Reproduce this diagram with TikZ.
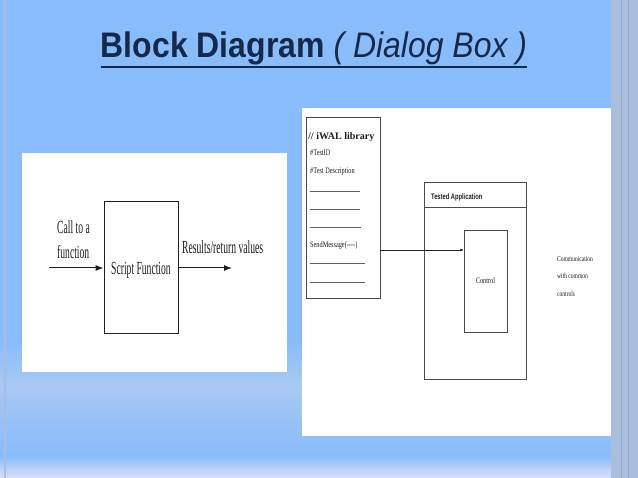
\documentclass[tikz,border=0pt]{standalone}
\usepackage{fontspec}
\usepackage{tikz}
\usetikzlibrary{arrows.meta,positioning}

\setmainfont{Liberation Serif}
\newfontfamily\titlefont[FakeStretch=0.9]{Liberation Sans}
\newfontfamily\figfont[FakeStretch=0.52]{Liberation Serif}
\newfontfamily\smallfont[FakeStretch=0.74]{Liberation Serif}
\newfontfamily\headfont[FakeStretch=0.72]{Liberation Sans}

\definecolor{slide}{HTML}{88BCFB}
\definecolor{slidelow}{HTML}{A9C9F2}
\definecolor{slidefoot}{HTML}{DCDEF8}
\definecolor{edge}{HTML}{A8BEDC}
\definecolor{edgeline}{HTML}{94AACF}
\definecolor{navy}{HTML}{17294A}
\definecolor{ink}{HTML}{1E1E1E}

\begin{document}
\begin{tikzpicture}[x=1pt, y=-1pt,
  blk/.style={draw=ink, line width=0.8pt, inner sep=0pt},
  thin/.style={draw=ink!80, line width=0.5pt, inner sep=0pt},
  lbl/.style={inner sep=0pt, align=left, text=ink},
  big/.style={font=\figfont\fontsize{18.5}{25}\selectfont},
  tiny/.style={font=\smallfont\fontsize{8.5}{8.5}\selectfont},
  arr/.style={-{Latex[length=8pt,width=6pt]}, line width=1pt, draw=ink},
  sarr/.style={-{Latex[length=3.5pt,width=3pt]}, line width=0.5pt, draw=ink}
]
\useasboundingbox (0,0) rectangle (638,478);
% slide background
\fill[slide] (0,0) rectangle (638,340);
\shade[top color=slide, bottom color=slidelow] (0,340) rectangle (638,385);
\shade[top color=slidelow, bottom color=slide] (0,385) rectangle (638,455);
\shade[top color=slide, bottom color=slidefoot] (0,455) rectangle (638,478);
\fill[edge] (611,0) rectangle (638,478);
\draw[edgeline, line width=1pt] (621,0) -- (621,478);
\draw[edgeline, line width=0.6pt] (628,0) -- (628,478);
\draw[edge, line width=1.5pt] (5,0) -- (5,478);

% title
\node[inner sep=0pt, text=navy, font=\titlefont\fontsize{35.5}{35.5}\selectfont] (title) at (314,48)
  {\textbf{Block Diagram} \textit{( Dialog Box )}};
\draw[navy, line width=1.4pt] ([yshift=-2pt]title.south west) -- ([yshift=-2pt]title.south east);

% left picture
\fill[white] (22,153) rectangle (287,372);
\node[blk, minimum width=74pt, minimum height=132pt] (script) at (141,267) {};
\node[lbl, big] (scripttxt) at ([yshift=-3pt]script.center) {Script Function};
\node[lbl, big, anchor=west] (call) at (57,240) {Call to a\\function};
\node[lbl, big, anchor=west] (res) at (182,247) {Results/return values};
\coordinate (callin) at (49,268);
\coordinate (resout) at (232,268);
\draw[arr] (callin) -- (callin -| script.west);
\draw[arr] (callin -| script.east) -- (resout);

% right picture
\fill[white] (302,108) rectangle (611,436);
\node[thin, minimum width=74pt, minimum height=181pt] (lib) at (343,207.5) {};
\node[lbl, anchor=west, font=\fontsize{10}{10}\selectfont\bfseries] (libname) at (308,137) {// iWAL library};
\node[lbl, tiny, anchor=west] (testid) at (310,153) {\#TestID};
\node[lbl, tiny, anchor=west] (testdesc) at (310,172) {\#Test Description};
\node[lbl, tiny, anchor=west] (send) at (310,245) {SendMessage(----)};
\foreach \y/\w in {191/50, 209/50, 227/51, 263/55, 282/55}
  \draw[ink!70, line width=0.4pt] (310,\y) -- ++(\w,0);

\node[thin, minimum width=102pt, minimum height=197pt] (app) at (475,280.5) {};
\draw[ink!80, line width=0.5pt] (app.west |- 0,207) -- (app.east |- 0,207);
\node[lbl, anchor=west, font=\headfont\fontsize{8}{8}\selectfont\bfseries] (apptitle) at (431,197) {Tested Application};
\node[thin, minimum width=43pt, minimum height=102pt] (ctl) at (485.5,281) {};
\node[lbl, tiny] (ctltxt) at (ctl.center) {Control};
\draw[sarr] (lib.east |- 0,250) -- (ctl.west |- 0,250);
\node[lbl, anchor=north west, font=\smallfont\fontsize{7.5}{17.5}\selectfont] (comm) at (557,256)
  {Communication\\with common\\controls};
\end{tikzpicture}
\end{document}
